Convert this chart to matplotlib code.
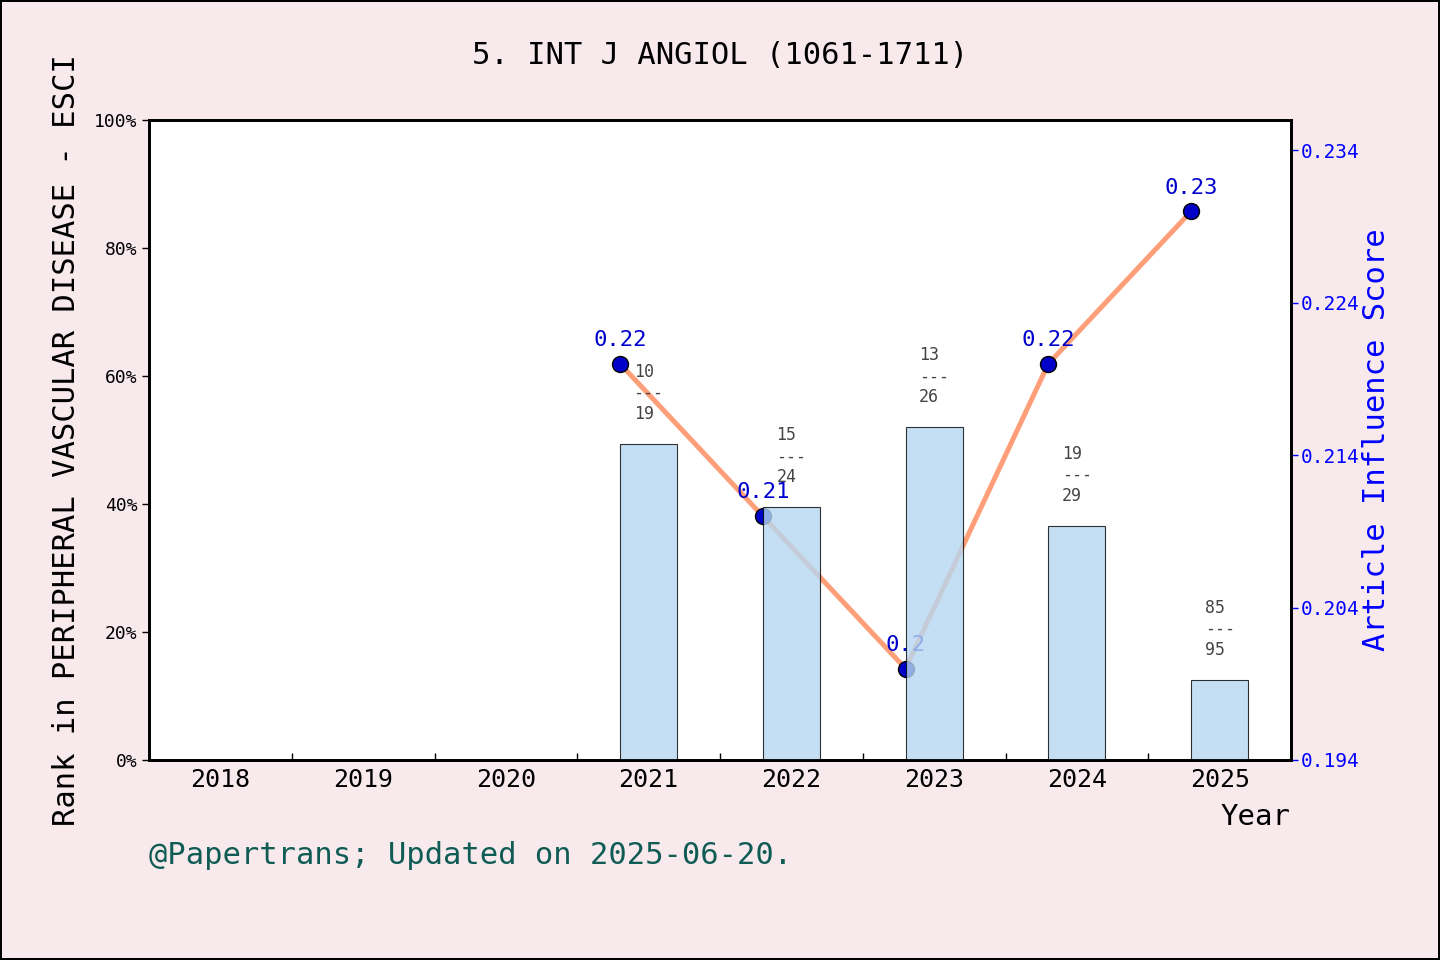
import matplotlib
matplotlib.use('Agg')
import matplotlib.pyplot as plt
from matplotlib.ticker import PercentFormatter, MultipleLocator, FixedLocator

years = ['2018', '2019', '2020', '2021', '2022', '2023', '2024', '2025']
# bar heights in percent (None = no data)
rank_pct = [None, None, None, 49.4, 39.5, 52.0, 36.6, 12.5]
rank_txt = [None, None, None, '10\n---\n19', '15\n---\n24', '13\n---\n26', '19\n---\n29', '85\n---\n95']
# article influence score
ais = [None, None, None, 0.22, 0.21, 0.20, 0.22, 0.23]
ais_txt = [None, None, None, '0.22', '0.21', '0.2', '0.22', '0.23']

plt.rcParams['font.family'] = ['DejaVu Sans Mono']

fig = plt.figure(figsize=(14.4, 9.6), dpi=100)
fig.patch.set_facecolor('#f7e9ec')
fig.patch.set_edgecolor('black')
fig.patch.set_linewidth(1.5)

ax1 = fig.add_axes([149/1440, 1-760/960, (1291-149)/1440, (760-120)/960])
ax2 = ax1.twinx()
# bars sit above the line, like the original
ax1.set_zorder(ax2.get_zorder() + 1)
ax1.patch.set_visible(False)
ax2.patch.set_visible(True)
ax2.patch.set_facecolor('white')

bar_w = 0.4
xs = list(range(len(years)))
bx = [x for x, v in zip(xs, rank_pct) if v is not None]
bh = [v for v in rank_pct if v is not None]
ax1.bar(bx, bh, width=bar_w, color='#b6d8f2', alpha=0.8, edgecolor='black', linewidth=0.8)
for x, v, t in zip(xs, rank_pct, rank_txt):
    if v is None:
        continue
    ax1.text(x, v + 3.3, t, ha='center', va='bottom', multialignment='left',
             fontsize=12, color='#444444', linespacing=1.2)

ax1.set_xlim(-0.5, 7.5)
ax1.set_ylim(0, 100)
ax1.yaxis.set_major_locator(MultipleLocator(20))
ax1.yaxis.set_major_formatter(PercentFormatter(decimals=0))
ax1.set_xticks(xs)
ax1.set_xticklabels(years, fontsize=18)
ax1.xaxis.set_minor_locator(FixedLocator([x + 0.5 for x in xs[:-1]]))
ax1.tick_params(axis='x', which='major', length=0, pad=6)
ax1.tick_params(axis='x', which='minor', direction='in', length=5, width=1)
ax1.tick_params(axis='y', labelsize=13, length=5, width=1)
ax1.set_ylabel('Rank in PERIPHERAL VASCULAR DISEASE - ESCI', fontsize=22, labelpad=9)
ax1.set_xlabel('Year', fontsize=21, loc='right', labelpad=8)
ax1.set_title('5. INT J ANGIOL (1061-1711)', fontsize=22, pad=40)
for s in ax1.spines.values():
    s.set_linewidth(2)
for s in ax2.spines.values():
    s.set_linewidth(2)

# line points sit on the left edge of each bar
lx = [x - bar_w / 2 for x, v in zip(xs, ais) if v is not None]
ly = [v for v in ais if v is not None]
ax2.plot(lx, ly, color='#ff9f7a', linewidth=3.6, zorder=1)
ax2.plot(lx, ly, 'o', markersize=11.5, markerfacecolor='#0000c8',
         markeredgecolor='black', markeredgewidth=1, zorder=2)
for x, v, t in zip(xs, ais, ais_txt):
    if v is None:
        continue
    ax2.annotate(t, (x - bar_w / 2, v), xytext=(0, 10), textcoords='offset points',
                 ha='center', va='bottom', fontsize=16, color='#0000cc')
ax2.set_ylim(0.194, 0.236)
ax2.set_yticks([0.194, 0.204, 0.214, 0.224, 0.234])
ax2.set_yticklabels(['0.194', '0.204', '0.214', '0.224', '0.234'])
ax2.tick_params(axis='y', colors='blue', labelsize=14, length=5, width=1, pad=2)
ax2.set_ylabel('Article Influence Score', fontsize=22, color='blue', labelpad=2)

fig.text(149/1440, 1-855/960, '@Papertrans; Updated on 2025-06-20.',
         fontsize=22, color='#0f5c55', ha='left', va='center')

fig.savefig('out.png', dpi=100, facecolor=fig.get_facecolor(), edgecolor=fig.get_edgecolor())
